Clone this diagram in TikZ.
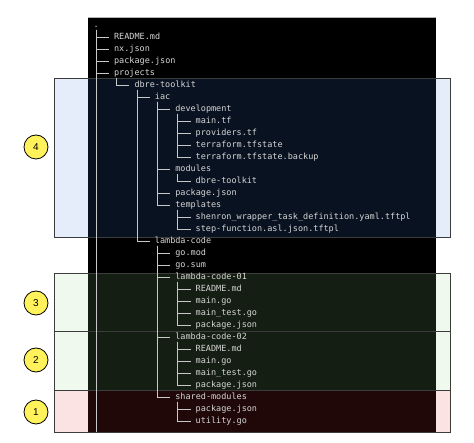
\documentclass[tikz,border=0pt]{standalone}
\usepackage{fontspec}
\setmainfont{Liberation Sans}
\setmonofont{DejaVu Sans Mono}
\usetikzlibrary{positioning}

\definecolor{termtext}{RGB}{214,214,214}
\definecolor{treeline}{RGB}{200,200,200}
\definecolor{framegray}{RGB}{60,60,60}
\definecolor{blueshade}{RGB}{70,130,230}
\definecolor{greenshade}{RGB}{150,215,130}
\definecolor{redshade}{RGB}{233,58,58}
\definecolor{badgeyellow}{RGB}{255,242,90}

\begin{document}
\begin{tikzpicture}[
    x=1pt, y=-1pt,
    entry/.style={anchor=west, inner sep=0pt, text=termtext, font=\fontsize{8.5}{10}\ttfamily, text height=6.4pt, text depth=1.9pt},
    branch/.style={draw=treeline, line width=0.7pt},
    region/.style={draw=framegray, line width=0.8pt, fill opacity=0.14, anchor=north west, minimum width=396pt, inner sep=0pt},
    badge/.style={circle, draw=black, fill=badgeyellow, line width=0.8pt, minimum size=24pt, inner sep=0pt, font=\fontsize{10}{12}\selectfont}
]
\useasboundingbox (0,0) rectangle (474,443);

% Terminal panel
\fill[black] (88,17) rectangle (436,432);
\draw[gray!60, line width=0.8pt] (88,17) -- (436,17);

% Highlighted regions
\node[region, fill=blueshade, minimum height=159pt] (zone4) at (54,78) {};
\node[region, fill=greenshade, minimum height=58pt] (zone3) at (54,273) {};
\node[region, fill=greenshade, minimum height=59pt] (zone2) at (54,331) {};
\node[region, fill=redshade, minimum height=42pt] (zone1) at (54,390) {};

% Region badges
\node[badge] (badge4) at (36,147) {4};
\node[badge] (badge3) at (36,303) {3};
\node[badge] (badge2) at (36,360) {2};
\node[badge] (badge1) at (36,412) {1};

% Top level
\node[entry] (root) at (93.5,25.3) {.};
\node[entry] (readme) at (113.9,37.3) {README.md};
\node[entry] (nxjson) at (113.9,49.3) {nx.json};
\node[entry] (pkgroot) at (113.9,61.3) {package.json};
\node[entry] (projects) at (113.9,73.3) {projects};
\node[entry] (toolkit) at (134.3,85.3) {dbre-toolkit};
\coordinate (rootend) at (96.05,432);

% iac
\node[entry] (iac) at (154.7,97.3) {iac};
\node[entry] (development) at (175.1,109.3) {development};
\node[entry] (maintf) at (195.5,121.3) {main.tf};
\node[entry] (providers) at (195.5,133.3) {providers.tf};
\node[entry] (tfstate) at (195.5,145.3) {terraform.tfstate};
\node[entry] (tfbackup) at (195.5,157.3) {terraform.tfstate.backup};
\node[entry] (modules) at (175.1,169.3) {modules};
\node[entry] (modtoolkit) at (195.5,181.3) {dbre-toolkit};
\node[entry] (pkgiac) at (175.1,193.3) {package.json};
\node[entry] (templates) at (175.1,205.3) {templates};
\node[entry] (shenron) at (195.5,217.3) {shenron\_wrapper\_task\_definition.yaml.tftpl};
\node[entry] (stepfn) at (195.5,229.3) {step-function.asl.json.tftpl};

% lambda-code
\node[entry] (lambda) at (154.7,241.3) {lambda-code};
\node[entry] (gomod) at (175.1,253.3) {go.mod};
\node[entry] (gosum) at (175.1,265.3) {go.sum};
\node[entry] (lambdaone) at (175.1,277.3) {lambda-code-01};
\node[entry] (readmeone) at (195.5,289.3) {README.md};
\node[entry] (mainone) at (195.5,301.3) {main.go};
\node[entry] (testone) at (195.5,313.3) {main\_test.go};
\node[entry] (pkgone) at (195.5,325.3) {package.json};
\node[entry] (lambdatwo) at (175.1,337.3) {lambda-code-02};
\node[entry] (readmetwo) at (195.5,349.3) {README.md};
\node[entry] (maintwo) at (195.5,361.3) {main.go};
\node[entry] (testtwo) at (195.5,373.3) {main\_test.go};
\node[entry] (pkgtwo) at (195.5,385.3) {package.json};
\node[entry] (shared) at (175.1,397.3) {shared-modules};
\node[entry] (pkgshared) at (195.5,409.3) {package.json};
\node[entry] (utility) at (195.5,421.3) {utility.go};

% Tree branches
\draw[branch] ([xshift=2.55pt]root.south west) -- (rootend);
\draw[branch] ([xshift=2.55pt]root.south west) |- ([xshift=-5pt]readme.west);
\draw[branch] ([xshift=2.55pt]root.south west) |- ([xshift=-5pt]nxjson.west);
\draw[branch] ([xshift=2.55pt]root.south west) |- ([xshift=-5pt]pkgroot.west);
\draw[branch] ([xshift=2.55pt]root.south west) |- ([xshift=-5pt]projects.west);
\draw[branch] ([xshift=2.55pt]projects.south west) |- ([xshift=-5pt]toolkit.west);
\draw[branch] ([xshift=2.55pt]toolkit.south west) |- ([xshift=-5pt]iac.west);
\draw[branch] ([xshift=2.55pt]toolkit.south west) |- ([xshift=-5pt]lambda.west);

\draw[branch] ([xshift=2.55pt]iac.south west) |- ([xshift=-5pt]development.west);
\draw[branch] ([xshift=2.55pt]iac.south west) |- ([xshift=-5pt]modules.west);
\draw[branch] ([xshift=2.55pt]iac.south west) |- ([xshift=-5pt]pkgiac.west);
\draw[branch] ([xshift=2.55pt]iac.south west) |- ([xshift=-5pt]templates.west);
\draw[branch] ([xshift=2.55pt]development.south west) |- ([xshift=-5pt]maintf.west);
\draw[branch] ([xshift=2.55pt]development.south west) |- ([xshift=-5pt]providers.west);
\draw[branch] ([xshift=2.55pt]development.south west) |- ([xshift=-5pt]tfstate.west);
\draw[branch] ([xshift=2.55pt]development.south west) |- ([xshift=-5pt]tfbackup.west);
\draw[branch] ([xshift=2.55pt]modules.south west) |- ([xshift=-5pt]modtoolkit.west);
\draw[branch] ([xshift=2.55pt]templates.south west) |- ([xshift=-5pt]shenron.west);
\draw[branch] ([xshift=2.55pt]templates.south west) |- ([xshift=-5pt]stepfn.west);

\draw[branch] ([xshift=2.55pt]lambda.south west) |- ([xshift=-5pt]gomod.west);
\draw[branch] ([xshift=2.55pt]lambda.south west) |- ([xshift=-5pt]gosum.west);
\draw[branch] ([xshift=2.55pt]lambda.south west) |- ([xshift=-5pt]lambdaone.west);
\draw[branch] ([xshift=2.55pt]lambda.south west) |- ([xshift=-5pt]lambdatwo.west);
\draw[branch] ([xshift=2.55pt]lambda.south west) |- ([xshift=-5pt]shared.west);
\draw[branch] ([xshift=2.55pt]lambdaone.south west) |- ([xshift=-5pt]readmeone.west);
\draw[branch] ([xshift=2.55pt]lambdaone.south west) |- ([xshift=-5pt]mainone.west);
\draw[branch] ([xshift=2.55pt]lambdaone.south west) |- ([xshift=-5pt]testone.west);
\draw[branch] ([xshift=2.55pt]lambdaone.south west) |- ([xshift=-5pt]pkgone.west);
\draw[branch] ([xshift=2.55pt]lambdatwo.south west) |- ([xshift=-5pt]readmetwo.west);
\draw[branch] ([xshift=2.55pt]lambdatwo.south west) |- ([xshift=-5pt]maintwo.west);
\draw[branch] ([xshift=2.55pt]lambdatwo.south west) |- ([xshift=-5pt]testtwo.west);
\draw[branch] ([xshift=2.55pt]lambdatwo.south west) |- ([xshift=-5pt]pkgtwo.west);
\draw[branch] ([xshift=2.55pt]shared.south west) |- ([xshift=-5pt]pkgshared.west);
\draw[branch] ([xshift=2.55pt]shared.south west) |- ([xshift=-5pt]utility.west);

\end{tikzpicture}
\end{document}
